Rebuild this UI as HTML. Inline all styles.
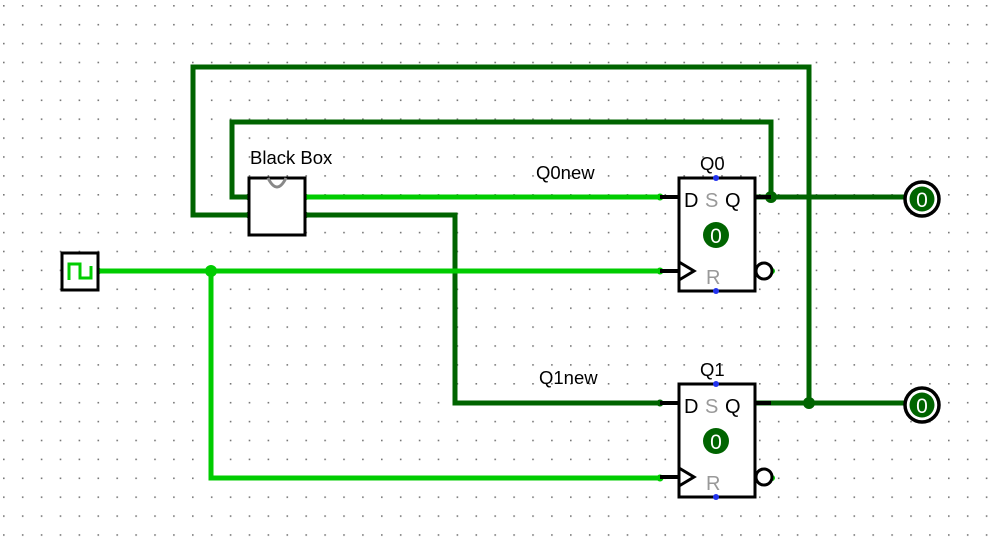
<!DOCTYPE html>
<html><head><meta charset="utf-8"><style>
html,body{margin:0;padding:0;background:#fff;}
svg{display:block;}
text{font-family:"Liberation Sans",sans-serif;}
</style></head><body>
<svg width="993" height="553" viewBox="0 0 993 553" xmlns="http://www.w3.org/2000/svg">
<defs>
<pattern id="g" x="3" y="5" width="18.9" height="18.9" patternUnits="userSpaceOnUse">
<rect x="0" y="0" width="1.6" height="1.6" fill="#777"/>
</pattern>
</defs>
<rect width="993" height="553" fill="url(#g)"/>
<g fill="none" stroke-linejoin="miter" stroke-linecap="square">
<polyline points="249,215 193,215 193,67 809,67 809,403" stroke="#006400" stroke-width="5"/>
<polyline points="249,197 232,197 232,122 771,122 771,197" stroke="#006400" stroke-width="5"/>
<polyline points="305,215 455,215 455,403 660,403" stroke="#006400" stroke-width="5"/>
<line x1="755" y1="197" x2="905" y2="197" stroke="#006400" stroke-width="5"/>
<line x1="755" y1="403" x2="905" y2="403" stroke="#006400" stroke-width="5"/>
<line x1="305" y1="197" x2="660" y2="197" stroke="#00cc00" stroke-width="5"/>
<line x1="98" y1="271" x2="660" y2="271" stroke="#00cc00" stroke-width="5"/>
<polyline points="211,271 211,478 660,478" stroke="#00cc00" stroke-width="5"/>
</g>
<g fill="#006400">
<circle cx="771" cy="197" r="6"/><circle cx="809" cy="403" r="6"/>
<circle cx="249" cy="197" r="3.5"/><circle cx="249" cy="215" r="3.5"/><circle cx="305" cy="215" r="3.5"/>
<circle cx="660" cy="403" r="3.5"/>
</g>
<g fill="#00cc00">
<circle cx="211" cy="271" r="6"/><circle cx="305" cy="197" r="3.5"/><circle cx="98" cy="271" r="3.5"/>
<circle cx="660" cy="197" r="3.5"/><circle cx="660" cy="271" r="3.5"/><circle cx="660" cy="478" r="3.5"/>
<circle cx="772" cy="271" r="3"/><circle cx="772" cy="478" r="3"/>
</g>
<rect x="62" y="253" width="36" height="37" fill="#fff" stroke="#000" stroke-width="3"/>
<polyline points="69,280 69,264 80,264 80,278 91,278 91,266" fill="none" stroke="#00cc00" stroke-width="3"/>
<rect x="249" y="178" width="56" height="57" fill="#fff" stroke="#000" stroke-width="3"/>
<path d="M268,178 Q277,196 286,178" fill="none" stroke="#888" stroke-width="3"/>
<text x="250" y="164" font-size="18.5">Black Box</text>
<text x="536" y="179" font-size="18.5">Q0new</text>
<text x="539" y="384" font-size="18.5">Q1new</text>
<g id="ff">
<line x1="660" y1="197" x2="679" y2="197" stroke="#000" stroke-width="4"/>
<line x1="660" y1="271" x2="679" y2="271" stroke="#000" stroke-width="4"/>
<line x1="755" y1="197" x2="771" y2="197" stroke="#000" stroke-width="4"/>
<rect x="679" y="178" width="76" height="113" fill="#fff" stroke="#000" stroke-width="3"/>
<polyline points="679,262 694,271 679,280" fill="none" stroke="#000" stroke-width="3"/>
<circle cx="764" cy="271" r="8" fill="#fff" stroke="#000" stroke-width="3"/>
<text x="684" y="207" font-size="20">D</text>
<text x="705" y="207" font-size="20" fill="#999">S</text>
<text x="725" y="207" font-size="20">Q</text>
<text x="706" y="284" font-size="20" fill="#999">R</text>
<circle cx="716" cy="235" r="13" fill="#006400"/>
<text x="716" y="243" font-size="21" fill="#fff" text-anchor="middle">0</text>
<circle cx="716" cy="178" r="3" fill="#2233ee"/><circle cx="716" cy="291" r="3" fill="#2233ee"/>
</g>
<text x="700" y="170" font-size="18.5">Q0</text>
<use href="#ff" transform="translate(0,206)"/>
<text x="700" y="376" font-size="18.5">Q1</text>
<circle cx="922" cy="199" r="17" fill="#fff" stroke="#000" stroke-width="3.5"/>
<circle cx="922" cy="199" r="12.5" fill="#006400"/>
<text x="922" y="207" font-size="21" fill="#fff" text-anchor="middle">0</text>
<circle cx="922" cy="405" r="17" fill="#fff" stroke="#000" stroke-width="3.5"/>
<circle cx="922" cy="405" r="12.5" fill="#006400"/>
<text x="922" y="413" font-size="21" fill="#fff" text-anchor="middle">0</text>
</svg>
</body></html>
